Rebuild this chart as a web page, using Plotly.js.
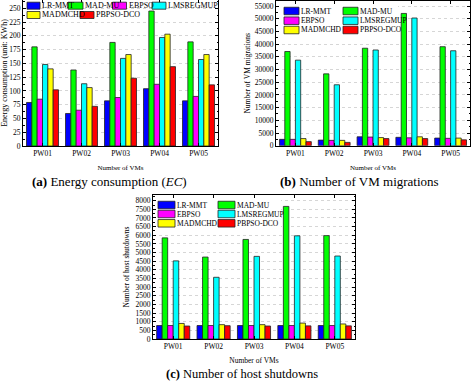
<!DOCTYPE html>
<html><head><meta charset="utf-8">
<script src="https://cdn.plot.ly/plotly-3.0.1.min.js"></script>
<style>html,body{margin:0;padding:0;background:#fff}#chart{width:474px;height:383px}</style>
</head><body><div id="chart"></div>
<script>
const categories = ['PW01','PW02','PW03','PW04','PW05'];
const seriesNames = ['LR-MMT','MAD-MU','EBPSO','LMSREGMUP','MADMCHD','PBPSO-DCO'];

const energyLrMmt     = [79, 59, 82, 104, 82];
const energyMadMu     = [180, 138, 188, 245, 189];
const energyEbpso     = [85, 65, 88, 112, 90];
const energyLmsregmup = [148, 113, 159, 197, 157];
const energyMadmchd   = [140, 106, 166, 203, 166];
const energyPbpsoDco  = [102, 72, 123, 144, 111];

const migLrMmt     = [2500, 2200, 3500, 3300, 3000];
const migMadMu     = [37100, 28300, 38400, 52100, 39000];
const migEbpso     = [2500, 2100, 3400, 3100, 2900];
const migLmsregmup = [33700, 24000, 37700, 50300, 37400];
const migMadmchd   = [2800, 2100, 3200, 3500, 3000];
const migPbpsoDco  = [1600, 1300, 2800, 2800, 2300];

const shutLrMmt     = [780, 780, 780, 780, 780];
const shutMadMu     = [5850, 4740, 5760, 7670, 5980];
const shutEbpso     = [780, 780, 780, 780, 780];
const shutLmsregmup = [4520, 3570, 4780, 5970, 4800];
const shutMadmchd   = [900, 830, 830, 920, 870];
const shutPbpsoDco  = [750, 770, 750, 760, 760];

const seriesColors = ['#0000ff','#00ff00','#ff00ff','#00ffff','#ffff00','#ff0000'];

const panels = [
  {ax:'', data:[energyLrMmt, energyMadMu, energyEbpso, energyLmsregmup, energyMadmchd, energyPbpsoDco]},
  {ax:'2', data:[migLrMmt, migMadMu, migEbpso, migLmsregmup, migMadmchd, migPbpsoDco]},
  {ax:'3', data:[shutLrMmt, shutMadMu, shutEbpso, shutLmsregmup, shutMadmchd, shutPbpsoDco]}
];

const W = 474, H = 383;
const px = v => v / W;
const py = v => 1 - v / H;
const FONT = '"Liberation Serif", "Times New Roman", serif';

const traces = [];
panels.forEach(p => {
  p.data.forEach((vals, i) => {
    traces.push({
      type: 'bar', name: seriesNames[i], x: categories, y: vals,
      xaxis: 'x' + p.ax, yaxis: 'y' + p.ax, showlegend: false,
      marker: {color: seriesColors[i], line: {color: '#222', width: 0.8}},
      hoverinfo: 'x+y+name'
    });
  });
});

function xAxis(d0, d1, anchor, tsize, standoff) {
  return {
    domain: [px(d0), px(d1)], anchor: anchor, type: 'category', range: [-0.5, 4.5],
    showline: true, linecolor: '#000', linewidth: 1, mirror: 'ticks',
    ticks: 'inside', ticklen: 3, tickcolor: '#000', showgrid: false, zeroline: false,
    tickfont: {family: FONT, size: 7.5, color: '#000'},
    title: {text: 'Number of VMs', font: {family: FONT, size: tsize, color: '#000'}, standoff: standoff},
    fixedrange: true
  };
}
function yAxis(top, bot, anchor, range, dtick, title, tsize, standoff) {
  return {
    domain: [py(bot), py(top)], anchor: anchor, range: range, dtick: dtick, tick0: 0,
    showline: true, linecolor: '#000', linewidth: 1, mirror: 'ticks',
    ticks: 'inside', ticklen: 3, tickcolor: '#000',
    minor: {ticks: 'inside', ticklen: 1.5, dtick: dtick / 2, tickcolor: '#000', showgrid: false},
    showgrid: true, gridcolor: '#c4c4c4', gridwidth: 0.7, griddash: 'dot', zeroline: false,
    exponentformat: 'none', separatethousands: false, tickformat: 'd',
    tickfont: {family: FONT, size: 7.5, color: '#000'},
    title: {text: title, font: {family: FONT, size: tsize, color: '#000'}, standoff: standoff},
    fixedrange: true
  };
}

const shapes = [];
const annotations = [];

function legendBlock(bg, items, fsize) {
  if (bg) {
    shapes.push({type: 'rect', xref: 'paper', yref: 'paper', x0: px(bg[0]), x1: px(bg[1]), y0: py(bg[3]), y1: py(bg[2]),
      fillcolor: '#fff', line: {width: 0}, layer: 'above'});
  }
  items.forEach(it => {
    const i = it[0], sx = it[1], sw = it[2], cy = it[3], sh = it[4];
    shapes.push({type: 'rect', xref: 'paper', yref: 'paper', x0: px(sx), x1: px(sx + sw),
      y0: py(cy + sh / 2), y1: py(cy - sh / 2), fillcolor: seriesColors[i], line: {color: '#222', width: 0.8}, layer: 'above'});
    annotations.push({xref: 'paper', yref: 'paper', x: px(sx + sw + 1), y: py(cy), xanchor: 'left', yanchor: 'middle',
      showarrow: false, text: seriesNames[i], borderpad: 0, font: {family: FONT, size: fsize, color: '#000'}});
  });
}

legendBlock(null, [
  [0, 27, 13, 5.7, 7], [1, 68, 15, 5.7, 7], [2, 112.5, 14, 5.7, 7], [3, 152, 14, 5.7, 7],
  [4, 27, 13, 15, 7], [5, 80, 14, 15, 7]
], 8);
legendBlock([280, 398, 4, 36], [
  [0, 284, 15, 11, 7.5], [1, 343, 15, 11, 7.5],
  [2, 284, 15, 20.7, 7.5], [3, 343, 15, 20.7, 7.5],
  [4, 284, 15, 30, 7.5], [5, 343, 15, 30, 7.5]
], 7.5);
legendBlock([156, 281, 199, 229], [
  [0, 158, 17, 205, 7.5], [1, 218, 17, 205, 7.5],
  [2, 158, 17, 214, 7.5], [3, 218, 17, 214, 7.5],
  [4, 158, 17, 223.3, 7.5], [5, 218, 17, 223.3, 7.5]
], 7.5);

annotations.push({xref: 'paper', yref: 'paper', x: px(109), y: py(182), xanchor: 'center', yanchor: 'middle', showarrow: false,
  text: '<b>(a)</b> Energy consumption (<i>EC</i>)', font: {family: FONT, size: 13, color: '#000'}});
annotations.push({xref: 'paper', yref: 'paper', x: px(359.5), y: py(182), xanchor: 'center', yanchor: 'middle', showarrow: false,
  text: '<b>(b)</b> Number of VM migrations', font: {family: FONT, size: 13, color: '#000'}});
annotations.push({xref: 'paper', yref: 'paper', x: px(241.5), y: py(374), xanchor: 'center', yanchor: 'middle', showarrow: false,
  text: '<b>(c)</b> Number of host shutdowns', font: {family: FONT, size: 12.5, color: '#000'}});

const layout = {
  width: W, height: H, margin: {l: 0, r: 0, t: 0, b: 0},
  paper_bgcolor: '#fff', plot_bgcolor: '#fff',
  font: {family: FONT, color: '#000'},
  barmode: 'group', bargap: 0.18, bargroupgap: 0,
  showlegend: false,
  xaxis: xAxis(23, 218, 'y', 7, 8),
  yaxis: yAxis(0, 146, 'x', [0, 265], 25, 'Energy consumption (unit: KWh)', 8, 3),
  xaxis2: xAxis(276, 470, 'y2', 7, 8),
  yaxis2: yAxis(1, 145.7, 'x2', [0, 57000], 5000, 'Number of VM migrations', 7.5, 3),
  xaxis3: xAxis(153, 355, 'y3', 7.5, 7),
  yaxis3: yAxis(195, 339, 'x3', [0, 8330], 500, 'Number of host shutdowns', 7.5, 4),
  shapes: shapes, annotations: annotations
};

Plotly.newPlot('chart', traces, layout, {displayModeBar: false, staticPlot: true});
</script></body></html>
